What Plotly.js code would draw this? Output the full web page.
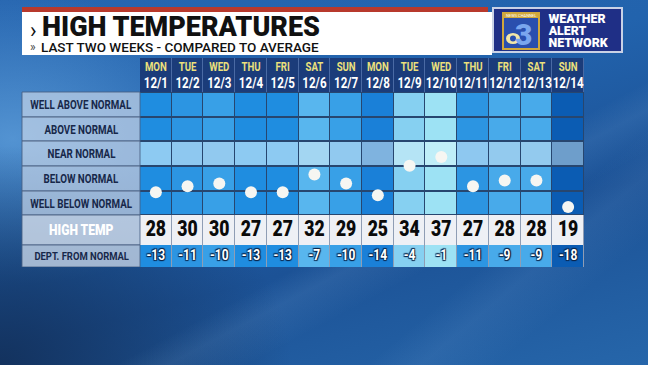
<!DOCTYPE html>
<html>
<head>
<meta charset="utf-8">
<script src="https://cdn.plot.ly/plotly-3.0.1.min.js"></script>
<style>
html,body{margin:0;padding:0;width:648px;height:365px;overflow:hidden;}
body{
 background:
  linear-gradient(152deg, rgba(255,255,255,0) 60%, rgba(160,200,240,0.10) 64%, rgba(255,255,255,0) 70%),
  linear-gradient(140deg, rgba(255,255,255,0) 74%, rgba(150,190,235,0.09) 79%, rgba(255,255,255,0) 86%),
  radial-gradient(ellipse 45% 60% at 0% 100%, #13325e 0%, rgba(18,48,92,0) 100%),
  radial-gradient(ellipse 35% 40% at 2% 38%, rgba(95,159,219,0.8) 0%, rgba(80,140,210,0) 100%),
  linear-gradient(165deg, #2766b0 0%, #2263ad 35%, #1c5296 65%, #2666aa 100%);
}
#chart{width:648px;height:365px;}
</style>
</head>
<body>
<div id="chart"></div>
<script>
// ---- data ----
const days = ['MON','TUE','WED','THU','FRI','SAT','SUN','MON','TUE','WED','THU','FRI','SAT','SUN'];
const dates = ['12/1','12/2','12/3','12/4','12/5','12/6','12/7','12/8','12/9','12/10','12/11','12/12','12/13','12/14'];
const highTemps = [28,30,30,27,27,32,29,25,34,37,27,28,28,19];
const departures = [-13,-11,-10,-13,-13,-7,-10,-14,-4,-1,-11,-9,-9,-18];
const levelLabels = ['WELL ABOVE NORMAL','ABOVE NORMAL','NEAR NORMAL','BELOW NORMAL','WELL BELOW NORMAL'];
const highLabel = 'HIGH TEMP';
const deptLabel = 'DEPT. FROM NORMAL';
const chartTitle = 'HIGH TEMPERATURES';
const chartSubtitle = 'LAST TWO WEEKS - COMPARED TO AVERAGE';
const logoLines = ['WEATHER','ALERT','NETWORK'];

// ---- layout geometry (pixels) ----
const W = 648, H = 365;
const gridLeft = 140, gridRight = 584, labelLeft = 22;
const headerEdges = [58, 92];
const levelEdges = [92, 117, 141, 166, 191, 215];
const highEdges = [215, 245];
const deptEdges = [245, 267];
const gridTop = headerEdges[0], gridBottom = deptEdges[1];
const dotZeroPx = 154, dotPxPerDeg = 2.94;

const N = days.length;
const xs = days.map((d, i) => i);
const mid = e => (e[0] + e[1]) / 2;
const px = v => v / W;
const py = v => 1 - v / H;

const font = 'Roboto, "DejaVu Sans", sans-serif';

// colour scales keyed on departure
const zmin = -18, zmax = -1;
const stop = v => (v - zmin) / (zmax - zmin);
const mainScale = [
  [stop(-18), '#0b5cb3'], [stop(-14), '#1a80d8'], [stop(-13), '#1f8de0'],
  [stop(-11), '#2c95e2'], [stop(-10), '#38a0e7'], [stop(-9), '#48aaea'],
  [stop(-7), '#58b6ee'], [stop(-4), '#86d0f1'], [stop(-1), '#9de2f4']
];
const nearScale = [
  [stop(-18), '#6e9ecb'], [stop(-14), '#7fb3df'], [stop(-13), '#8dcaf2'],
  [stop(-11), '#8ec8f0'], [stop(-9), '#93caee'], [stop(-7), '#a3d6f2'],
  [stop(-4), '#b5e4f5'], [stop(-1), '#c0eef8']
];

const traces = [];
traces.push({type:'heatmap', x: xs, y: headerEdges, z: [departures],
  colorscale: [[0,'#1b3c7a'],[1,'#1b3c7a']], showscale:false, xgap:1, hoverinfo:'skip'});
traces.push({type:'heatmap', x: xs, y: levelEdges,
  z: levelLabels.map(() => departures), zmin, zmax,
  colorscale: mainScale, showscale:false, xgap:1, ygap:2, hoverinfo:'skip'});
traces.push({type:'heatmap', x: xs, y: [levelEdges[2], levelEdges[3]],
  z: [departures], zmin, zmax,
  colorscale: nearScale, showscale:false, xgap:1, ygap:2, hoverinfo:'skip'});
traces.push({type:'heatmap', x: xs, y: highEdges, z: [highTemps],
  colorscale: [[0,'#eef0f5'],[1,'#eef0f5']], showscale:false, xgap:1, hoverinfo:'skip'});
traces.push({type:'heatmap', x: xs, y: deptEdges, z: [departures], zmin, zmax,
  colorscale: mainScale, showscale:false, xgap:1, hoverinfo:'skip'});

traces.push({type:'scatter', mode:'text', x: xs, y: xs.map(() => 68), text: days,
  textfont:{family: font, size: 12, color:'#ece07c', weight: 700}, hoverinfo:'skip'});
traces.push({type:'scatter', mode:'text', x: xs, y: xs.map(() => 84.5), text: dates,
  textfont:{family: font, size: 14.5, color:'#ffffff', weight: 700}, hoverinfo:'skip'});
traces.push({type:'scatter', mode:'text', x: xs, y: xs.map(() => mid(highEdges)), text: highTemps.map(String),
  textfont:{family: font, size: 22, color:'#0a0a0a', weight: 900}, hoverinfo:'skip'});
traces.push({type:'scatter', mode:'text', x: xs, y: xs.map(() => mid(deptEdges) + 0.5), text: departures.map(String),
  textfont:{family: font, size: 15, color:'#ffffff', weight: 700, shadow:'1px 1px 1px #0b2448, -1px -1px 1px #0b2448, 1px -1px 1px #0b2448, -1px 1px 1px #0b2448'},
  hoverinfo:'skip'});
traces.push({type:'scatter', mode:'markers', x: xs, y: departures, xaxis:'x', yaxis:'y2',
  marker:{size: 12, color:'#f6f6f2', line:{width:0}}, hoverinfo:'skip'});

const shapes = [];
shapes.push({type:'rect', xref:'paper', yref:'paper', x0:px(labelLeft), x1:px(492), y0:py(55), y1:py(12), fillcolor:'#ffffff', line:{width:0}});
shapes.push({type:'rect', xref:'paper', yref:'paper', x0:px(labelLeft), x1:px(488), y0:py(12), y1:py(7), fillcolor:'#b8392c', line:{width:0}});
// logo
shapes.push({type:'rect', xref:'paper', yref:'paper', x0:px(493), x1:px(622), y0:py(52), y1:py(8), fillcolor:'#1f2f86', line:{width:2, color:'#c9d2e6'}});
shapes.push({type:'rect', xref:'paper', yref:'paper', x0:px(503), x1:px(539), y0:py(49), y1:py(13), fillcolor:'#2a4fae', line:{width:2, color:'#d0a83c'}});
shapes.push({type:'rect', xref:'paper', yref:'paper', x0:px(503), x1:px(539), y0:py(18), y1:py(13), fillcolor:'#d0a83c', line:{width:0}});
shapes.push({type:'circle', xref:'paper', yref:'paper', x0:px(506), x1:px(520), y0:py(44), y1:py(33), fillcolor:'#f2e6a8', line:{width:0}});
shapes.push({type:'circle', xref:'paper', yref:'paper', x0:px(510), x1:px(516), y0:py(41.5), y1:py(35.5), fillcolor:'#2a4fae', line:{width:0}});
// grid gap backgrounds
shapes.push({type:'rect', xref:'paper', yref:'y', x0:px(gridLeft), x1:px(gridRight), y0:headerEdges[0], y1:headerEdges[1], fillcolor:'#4a6aa4', line:{width:0}, layer:'below'});
shapes.push({type:'rect', xref:'paper', yref:'y', x0:px(gridLeft), x1:px(gridRight), y0:levelEdges[0], y1:levelEdges[5], fillcolor:'#27466f', line:{width:0}, layer:'below'});
shapes.push({type:'rect', xref:'paper', yref:'y', x0:px(gridLeft), x1:px(gridRight), y0:highEdges[0], y1:deptEdges[1], fillcolor:'#8f9db4', line:{width:0}, layer:'below'});
const labelRows = [];
for (let i = 0; i < levelLabels.length; i++) labelRows.push([levelEdges[i], levelEdges[i+1], 'rgba(196,212,232,0.70)']);
labelRows.push([highEdges[0], highEdges[1], 'rgba(214,224,238,0.80)']);
labelRows.push([deptEdges[0], deptEdges[1], 'rgba(200,214,232,0.78)']);
labelRows.forEach(r => {
  shapes.push({type:'rect', xref:'paper', yref:'y', x0:px(labelLeft), x1:px(gridLeft), y0:r[0], y1:r[1], fillcolor:r[2], line:{width:1, color:'rgba(70,95,130,0.85)'}});
});

const annotations = [];
annotations.push({xref:'paper', yref:'paper', x:px(28), y:py(31), xanchor:'left', yanchor:'middle', showarrow:false,
  text:'›', font:{family: font, size: 22, color:'#111'}});
annotations.push({xref:'paper', yref:'paper', x:px(40), y:py(27.5), xanchor:'left', yanchor:'middle', showarrow:false,
  text: chartTitle, font:{family: font, size: 27, color:'#111', weight: 900}});
annotations.push({xref:'paper', yref:'paper', x:px(28), y:py(47.5), xanchor:'left', yanchor:'middle', showarrow:false,
  text:'»', font:{family: font, size: 12, color:'#444'}});
annotations.push({xref:'paper', yref:'paper', x:px(39), y:py(47.5), xanchor:'left', yanchor:'middle', showarrow:false,
  text: chartSubtitle, font:{family: font, size: 13.5, color:'#111', weight: 500}});
logoLines.forEach((t, i) => {
  annotations.push({xref:'paper', yref:'paper', x:px(544), y:py(18.5 + i * 11.8), xanchor:'left', yanchor:'middle', showarrow:false,
    text:t, font:{family: font, size: 13.5, color:'#ffffff', weight: 900}});
});
annotations.push({xref:'paper', yref:'paper', x:px(523), y:py(34), xanchor:'center', yanchor:'middle', showarrow:false,
  text:'3', font:{family: font, size: 30, color:'#7aa6ee', weight: 900}});
annotations.push({xref:'paper', yref:'paper', x:px(521), y:py(15.5), xanchor:'center', yanchor:'middle', showarrow:false,
  text:'NEWS CHANNEL', font:{family: font, size: 4, color:'#ffffff'}});
levelLabels.forEach((l, i) => {
  annotations.push({xref:'paper', yref:'y', x:px(81), y:(levelEdges[i] + levelEdges[i+1]) / 2, xanchor:'center', yanchor:'middle', showarrow:false,
    text:l, font:{family: font, size: 12.5, color:'#17284a', weight: 700}});
});
annotations.push({xref:'paper', yref:'y', x:px(81), y:mid(highEdges), xanchor:'center', yanchor:'middle', showarrow:false,
  text:highLabel, font:{family: font, size: 15.5, color:'#ffffff', weight: 900}});
annotations.push({xref:'paper', yref:'y', x:px(81), y:mid(deptEdges), xanchor:'center', yanchor:'middle', showarrow:false,
  text:deptLabel, font:{family: font, size: 11.5, color:'#17284a', weight: 700}});

const layout = {
  width: W, height: H,
  margin: {l:0, r:0, t:0, b:0},
  paper_bgcolor: 'rgba(0,0,0,0)',
  plot_bgcolor: 'rgba(0,0,0,0)',
  showlegend: false,
  xaxis: {domain:[px(gridLeft), px(gridRight)], range:[-0.5, N - 0.5], visible:false, fixedrange:true},
  yaxis: {domain:[py(gridBottom), py(gridTop)], range:[gridBottom, gridTop], visible:false, fixedrange:true},
  yaxis2: {overlaying:'y', range:[(dotZeroPx - gridBottom) / dotPxPerDeg, (dotZeroPx - gridTop) / dotPxPerDeg], visible:false, fixedrange:true},
  shapes, annotations
};

// emulate the condensed broadcast typeface by narrowing glyphs
function condense(textEl, factor) {
  const len = textEl.getComputedTextLength();
  if (len > 0) {
    textEl.setAttribute('textLength', (len * factor).toFixed(2));
    textEl.setAttribute('lengthAdjust', 'spacingAndGlyphs');
  }
}
Plotly.newPlot('chart', traces, layout, {staticPlot:true, displayModeBar:false}).then(gd => {
  gd.querySelectorAll('.textpoint text').forEach(t => condense(t, 0.8));
  const narrowSet = new Set([...levelLabels, highLabel, deptLabel]);
  gd.querySelectorAll('.annotation-text').forEach(t => {
    if (narrowSet.has(t.textContent)) condense(t, t.textContent === deptLabel ? 0.82 : 0.78);
    if (logoLines.includes(t.textContent)) condense(t, 0.92);
  });
});
</script>
</body>
</html>
